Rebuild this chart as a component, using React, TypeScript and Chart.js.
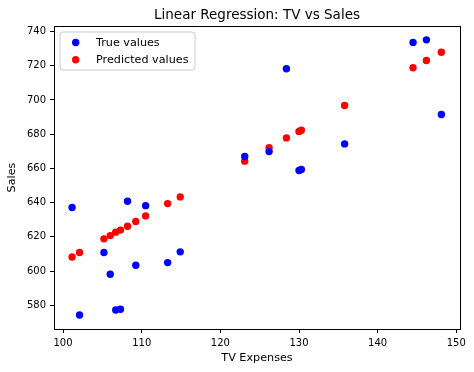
import React, { useEffect, useRef } from "react";
import { Chart, registerables } from "chart.js";

Chart.register(...registerables);

const tvExpenses = [101.15, 102.1, 105.2, 106.0, 106.7, 107.3, 108.2, 109.25, 110.5, 113.3, 114.9, 123.1, 126.2, 128.4, 130.0, 130.3, 135.8, 144.5, 146.2, 148.1];
const trueSales = [637.1, 574.3, 610.8, 598.1, 577.2, 577.6, 640.8, 603.4, 638.2, 604.9, 611.2, 666.9, 669.8, 718.2, 658.7, 659.3, 674.3, 733.6, 735.1, 691.5];
const predictedSales = [608.2, 610.8, 618.8, 620.7, 622.7, 623.9, 626.2, 628.9, 632.2, 639.4, 643.3, 664.2, 672.0, 677.8, 681.6, 682.3, 696.7, 718.8, 723.0, 727.9];
const seriesNames = ["True values", "Predicted values"];
const seriesColors = ["#0000ff", "#ff0000"];
const titleText = "Linear Regression: TV vs Sales";
const xLabel = "TV Expenses";
const yLabel = "Sales";

const FONT = "'DejaVu Sans', sans-serif";

const framePlugin = {
  id: "frame",
  afterDraw(chart: any) {
    const { ctx, chartArea } = chart;
    const { left, top, right, bottom } = chartArea;
    ctx.save();
    ctx.strokeStyle = "#000";
    ctx.lineWidth = 1;
    ctx.strokeRect(Math.round(left) + 0.5, Math.round(top) + 0.5, Math.round(right - left), Math.round(bottom - top));
    // title
    ctx.fillStyle = "#000";
    ctx.font = `13.5px ${FONT}`;
    ctx.textAlign = "center";
    ctx.textBaseline = "alphabetic";
    ctx.fillText(titleText, (left + right) / 2, top - 7);
    // legend
    const bx = left + 6, by = top + 6, bw = 135, bh = 38;
    ctx.fillStyle = "rgba(255,255,255,0.8)";
    ctx.strokeStyle = "#cccccc";
    ctx.beginPath();
    const r = 3;
    ctx.moveTo(bx + r, by);
    ctx.lineTo(bx + bw - r, by);
    ctx.quadraticCurveTo(bx + bw, by, bx + bw, by + r);
    ctx.lineTo(bx + bw, by + bh - r);
    ctx.quadraticCurveTo(bx + bw, by + bh, bx + bw - r, by + bh);
    ctx.lineTo(bx + r, by + bh);
    ctx.quadraticCurveTo(bx, by + bh, bx, by + bh - r);
    ctx.lineTo(bx, by + r);
    ctx.quadraticCurveTo(bx, by, bx + r, by);
    ctx.closePath();
    ctx.fill();
    ctx.stroke();
    ctx.font = `11.2px ${FONT}`;
    ctx.textAlign = "left";
    ctx.textBaseline = "middle";
    seriesNames.forEach((name, i) => {
      const cy = by + 10.5 + i * 17.3;
      ctx.fillStyle = seriesColors[i];
      ctx.beginPath();
      ctx.arc(bx + 15.7, cy, 3.7, 0, Math.PI * 2);
      ctx.fill();
      ctx.fillStyle = "#000";
      ctx.fillText(name, bx + 36, cy + 0.5);
    });
    ctx.restore();
  },
};

export default function App() {
  const ref = useRef<HTMLCanvasElement | null>(null);
  useEffect(() => {
    document.body.style.margin = "0";
    const canvas = ref.current;
    if (!canvas) return;
    const chart = new Chart(canvas, {
      type: "scatter",
      data: {
        datasets: [
          {
            label: seriesNames[0],
            data: tvExpenses.map((x, i) => ({ x, y: trueSales[i] })),
            backgroundColor: seriesColors[0],
            borderColor: seriesColors[0],
            pointRadius: 3.7,
            borderWidth: 0,
          },
          {
            label: seriesNames[1],
            data: tvExpenses.map((x, i) => ({ x, y: predictedSales[i] })),
            backgroundColor: seriesColors[1],
            borderColor: seriesColors[1],
            pointRadius: 3.7,
            borderWidth: 0,
          },
        ],
      },
      options: {
        animation: false,
        responsive: false,
        layout: { padding: { top: 26, right: 14, left: 5, bottom: 7 } },
        plugins: { legend: { display: false }, title: { display: false }, tooltip: { enabled: false } },
        scales: {
          x: {
            type: "linear",
            min: 98.85,
            max: 150.47,
            grid: { drawOnChartArea: false, drawTicks: true, tickLength: 4, color: "#000" },
            border: { display: false },
            ticks: { stepSize: 10, includeBounds: false, color: "#000", font: { family: FONT, size: 10 }, padding: 4, maxRotation: 0 },
            title: { display: true, text: xLabel, color: "#000", font: { family: FONT, size: 11.2 }, padding: { top: 0, bottom: 0 } },
            afterFit(scale: any) {
              scale.height = 36;
            },
          },
          y: {
            type: "linear",
            min: 566.1,
            max: 743.2,
            grid: { drawOnChartArea: false, drawTicks: true, tickLength: 4, color: "#000" },
            border: { display: false },
            ticks: { stepSize: 20, includeBounds: false, color: "#000", font: { family: FONT, size: 10 }, padding: 4 },
            title: { display: true, text: yLabel, color: "#000", font: { family: FONT, size: 11.2 }, padding: { top: 0, bottom: 4 } },
            afterFit(scale: any) {
              scale.width = 49;
            },
          },
        },
      },
      plugins: [framePlugin],
    });
    return () => chart.destroy();
  }, []);
  return (
    <div style={{ width: 474, height: 372, background: "#fff" }}>
      <canvas ref={ref} width={474} height={372} style={{ width: 474, height: 372 }} />
    </div>
  );
}
